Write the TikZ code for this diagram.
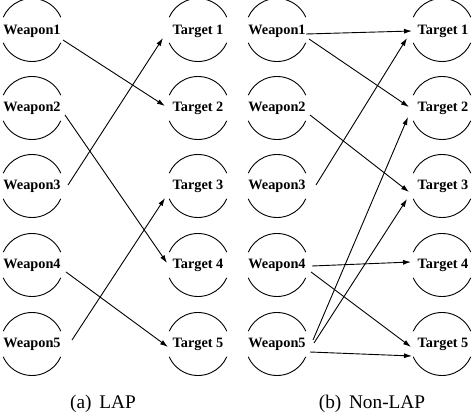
\documentclass[tikz,border=0pt]{standalone}
\usepackage{fontspec}
\setmainfont{Liberation Serif}
\usetikzlibrary{arrows.meta}
\tikzset{
  lbl/.style={font=\bfseries\fontsize{14.3}{16}\selectfont, inner sep=0pt},
  captext/.style={font=\fontsize{19.3}{21}\selectfont, inner sep=0pt, anchor=base},
  arcs/.style={line width=0.9pt},
  link/.style={line width=0.9pt, -{Latex[length=8pt,width=5pt]}}
}
\newcommand{\ringat}[1]{%
  \draw[arcs] ([shift={(24:31.5pt)}]#1) arc[start angle=24,end angle=156,radius=31.5pt];
  \draw[arcs] ([shift={(204:31.5pt)}]#1) arc[start angle=204,end angle=336,radius=31.5pt];
}
\begin{document}
\begin{tikzpicture}[x=1pt,y=-1pt]
\useasboundingbox (0,0) rectangle (474,414);
\foreach \i/\y in {1/31,2/108,3/186,4/265,5/344}{
  \node[lbl] (wa\i) at (32,\y) {Weapon\i};
  \node[lbl] (ta\i) at (198,\y) {Target \i};
  \node[lbl] (wb\i) at (277,\y) {Weapon\i};
  \node[lbl] (tb\i) at (443,\y) {Target \i};
}
\foreach \i/\y in {1/30,2/108,3/186,4/265,5/344}{
  \ringat{32,\y}
  \ringat{198,\y}
  \ringat{277,\y}
  \ringat{442,\y}
}
% LAP
\draw[link] ([shift={(31,9)}]wa1.center) -- ([shift={(-33,-2)}]ta2.center);
\draw[link] ([shift={(33,7)}]wa2.center) -- ([shift={(-31,-2)}]ta4.center);
\draw[link] ([shift={(36,-1)}]wa3.center) -- ([shift={(-35,7)}]ta1.center);
\draw[link] ([shift={(34,7)}]wa4.center) -- ([shift={(-30,3)}]ta5.center);
\draw[link] ([shift={(40,-4)}]wa5.center) -- ([shift={(-33,12)}]ta3.center);
% Non-LAP
\draw[link] ([shift={(29,3)}]wb1.center) -- ([shift={(-31,0)}]tb1.center);
\draw[link] ([shift={(32,8)}]wb1.center) -- ([shift={(-34,-1)}]tb2.center);
\draw[link] ([shift={(33,7)}]wb2.center) -- ([shift={(-34,6)}]tb3.center);
\draw[link] ([shift={(39,-1)}]wb3.center) -- ([shift={(-36,7)}]tb1.center);
\draw[link] ([shift={(35,1)}]wb4.center) -- ([shift={(-32,-3)}]tb4.center);
\draw[link] ([shift={(34,7)}]wb4.center) -- ([shift={(-32,3)}]tb5.center);
\draw[link] ([shift={(36,-4)}]wb5.center) -- ([shift={(-35,9)}]tb2.center);
\draw[link] ([shift={(37,-1)}]wb5.center) -- ([shift={(-36,13)}]tb3.center);
\draw[link] ([shift={(33,8)}]wb5.center) -- ([shift={(-31,12)}]tb5.center);
% captions
\node[captext] (ca) at (103,408) {(a)\hspace{0.4em}LAP};
\node[captext] (cb) at (372,408) {(b)\hspace{0.4em}Non-LAP};
\end{tikzpicture}
\end{document}
